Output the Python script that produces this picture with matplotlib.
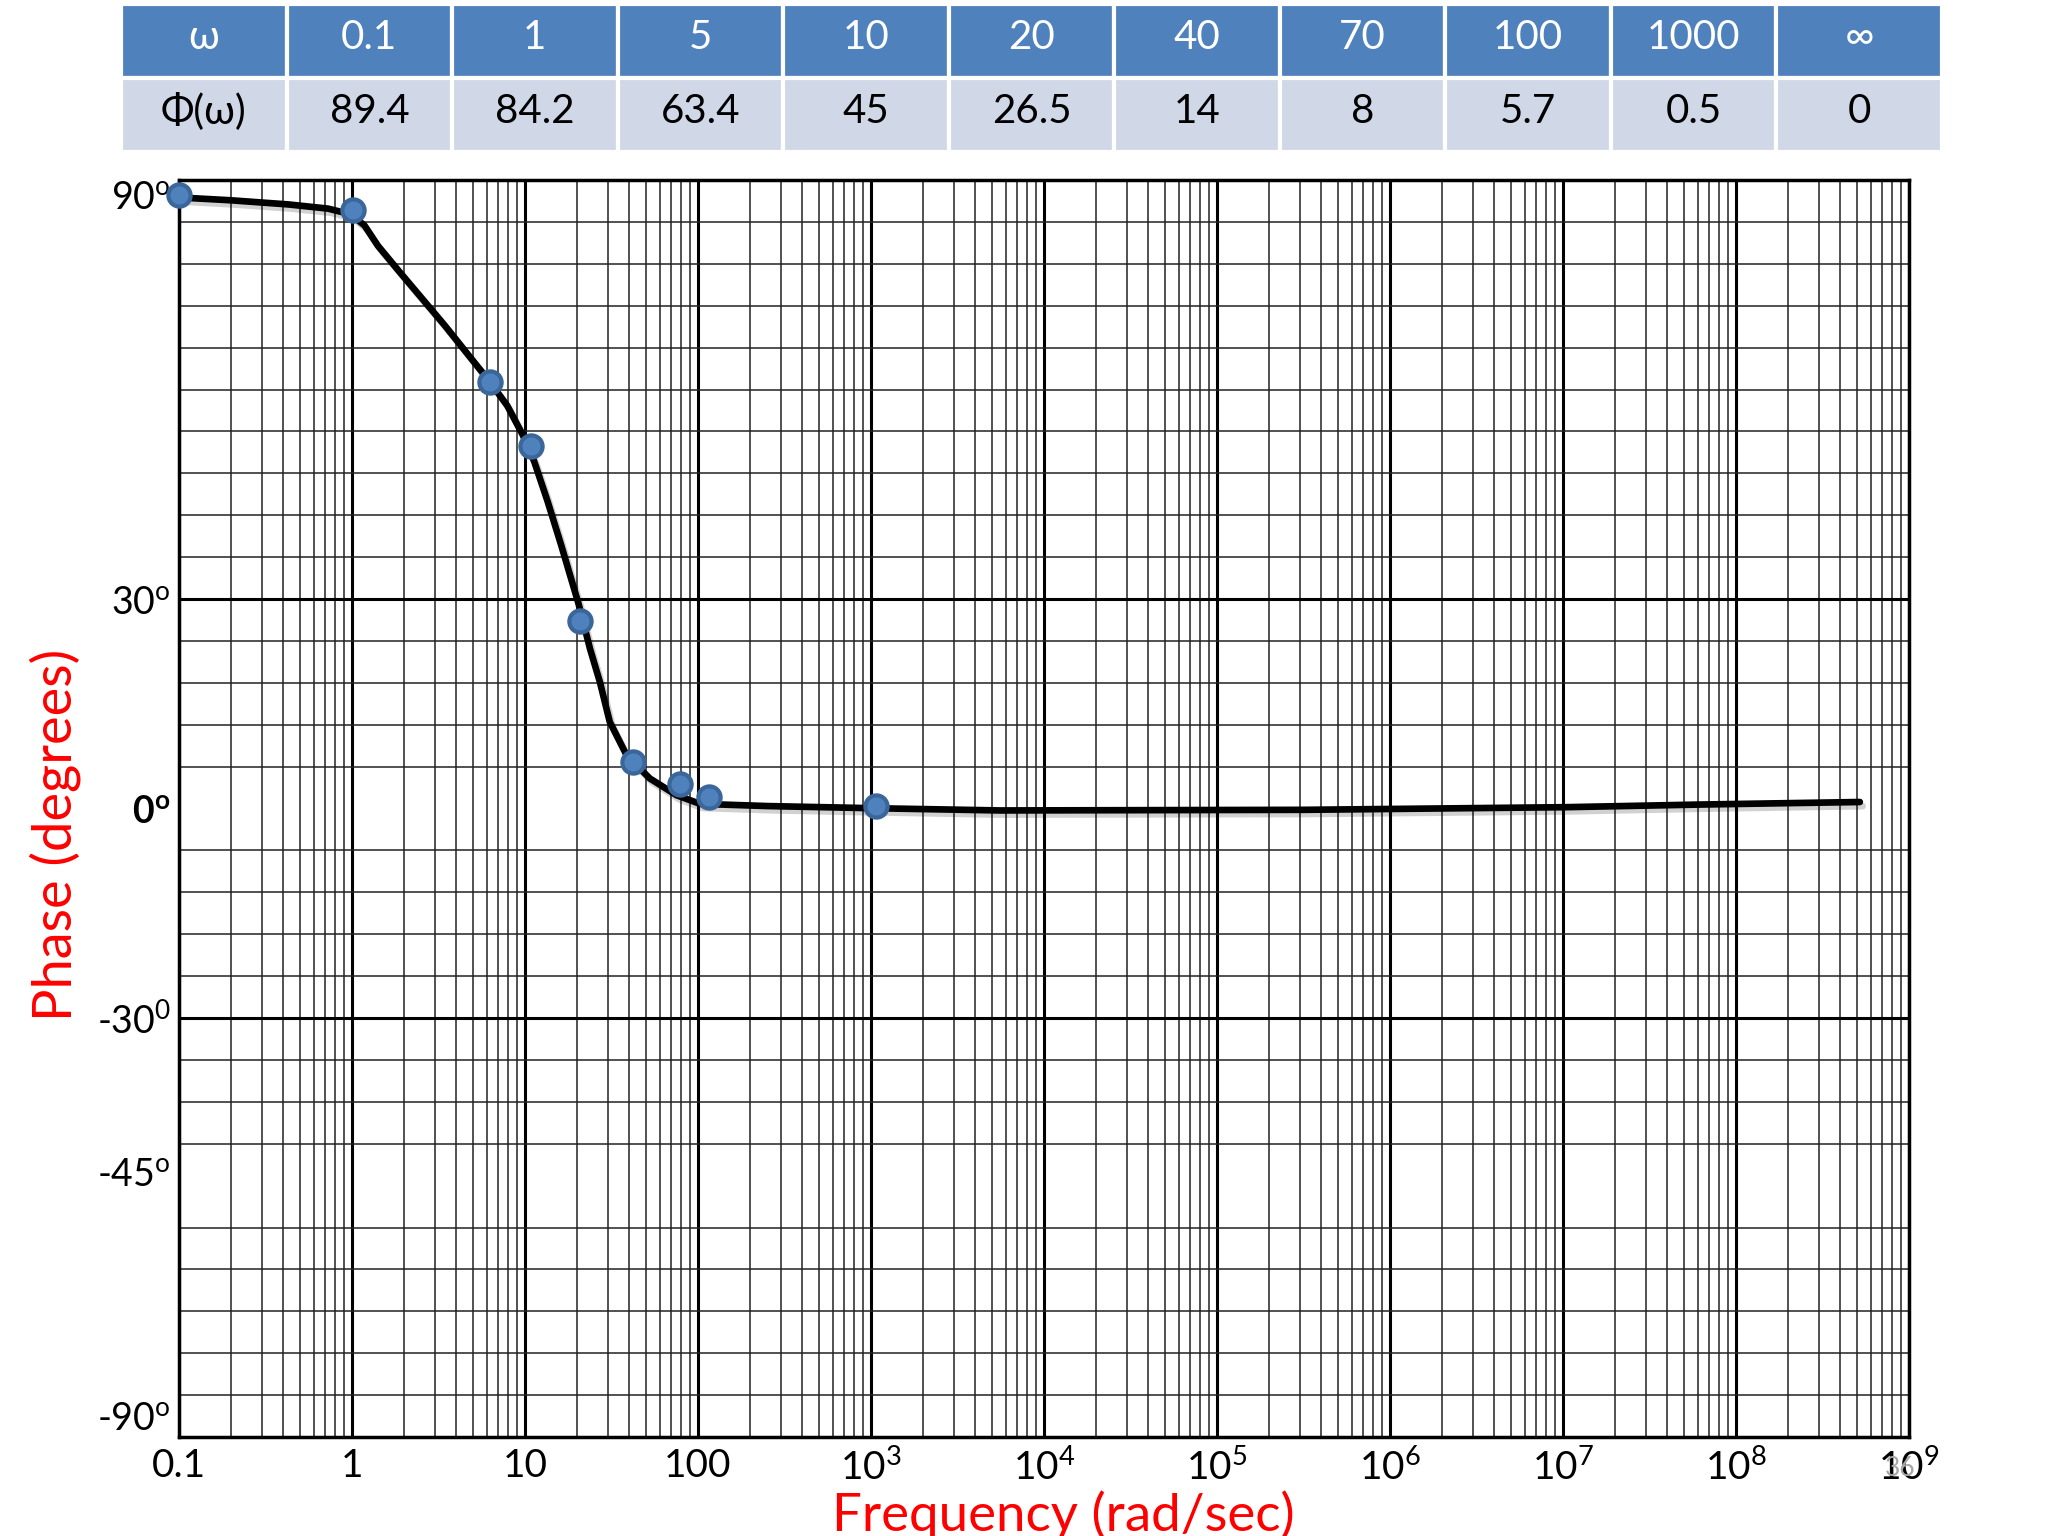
import numpy as np
import matplotlib
matplotlib.use('Agg')
import matplotlib.pyplot as plt
import matplotlib.patheffects as pe
from matplotlib.patches import Rectangle

plt.rcParams['font.family'] = ['Lato', 'DejaVu Sans']
plt.rcParams['mathtext.fontset'] = 'custom'
plt.rcParams['mathtext.rm'] = 'Lato'
plt.rcParams['mathtext.it'] = 'Lato:italic'
plt.rcParams['mathtext.bf'] = 'Lato:bold'

# table shown above the plot
table_w = ['ω', '0.1', '1', '5', '10', '20', '40', '70', '100', '1000', '∞']
table_phi = ['Φ(ω)', '89.4', '84.2', '63.4', '45', '26.5', '14', '8', '5.7', '0.5', '0']

# plotted points, as drawn on the graph paper
pt_w = [0.1, 1.02, 6.25, 10.9, 20.7, 42.3, 79.1, 116, 1072]
pt_phi = [87.8, 85.7, 61.1, 51.9, 26.9, 6.7, 3.5, 1.7, 0.4]

# hand drawn curve through the points
curve_w = [0.1, 0.198, 0.429, 0.728, 0.98, 1.18, 1.41, 1.89, 3.43, 4.9, 6.22,
           7.89, 9.7, 11.3, 13.5, 16.1, 20.4, 23.8, 27.1, 30.9, 38.7, 52.7,
           75.2, 102.6, 251, 942, 5560, 3.2e5, 1.85e6, 1.05e7, 6e7, 5.2e8]
curve_phi = [87.5, 87.1, 86.5, 85.9, 85.1, 83.5, 80.6, 76.8, 69.2, 64.4, 61.2,
             57.7, 53.5, 49.7, 44, 37.9, 29.3, 22.8, 18.1, 12.4, 7.6, 4.3,
             1.9, 0.67, 0.35, 0.06, -0.28, -0.19, 0, 0.19, 0.56, 0.93]

# axis labels
ytick_pos = [90, 30, 0, -30, -54, -90]
ytick_lab = [r'90$^{\mathregular{o}}$', r'30$^{\mathregular{o}}$', r'$\mathbf{0^{o}}$',
             r'-30$^{\mathregular{0}}$', r'-45$^{\mathregular{o}}$', r'-90$^{\mathregular{o}}$']
xtick_pos = [10.0 ** k for k in range(-1, 10)]
xtick_lab = ['0.1', '1', '10', '100'] + [r'$\mathregular{10^{%d}}$' % k for k in range(3, 10)]

W, H = 2048, 1536
fig = plt.figure(figsize=(W / 100, H / 100), dpi=100)

# ---- table ----
tx0, tx1, ty0, ty1 = 121, 1942, 4, 152
tab = fig.add_axes([tx0 / W, 1 - ty1 / H, (tx1 - tx0) / W, (ty1 - ty0) / H])
tab.set_xlim(0, len(table_w))
tab.set_ylim(0, 2)
tab.axis('off')
for i in range(len(table_w)):
    tab.add_patch(Rectangle((i, 1), 1, 1, facecolor='#4F81BD', edgecolor='white', lw=3))
    tab.add_patch(Rectangle((i, 0), 1, 1, facecolor='#D0D8E8', edgecolor='white', lw=3))
    tab.text(i + 0.5, 1.55, table_w[i], color='white', fontsize=29, ha='center', va='center')
    tab.text(i + 0.5, 0.55, table_phi[i], color='black', fontsize=29, ha='center', va='center')

# ---- graph ----
ax_l, ax_r, ax_t, ax_b = 179, 1909, 180, 1437
ax = fig.add_axes([ax_l / W, 1 - ax_b / H, (ax_r - ax_l) / W, (ax_b - ax_t) / H])
ax.set_xscale('log')
ax.set_xlim(0.1, 1e9)
ax.set_ylim(-90, 90)

ax.set_xticks(xtick_pos)
ax.set_xticklabels(xtick_lab)
ax.set_yticks(ytick_pos)
ax.set_yticklabels(ytick_lab)
ax.set_yticks(np.arange(-90, 91, 6), minor=True)
ax.tick_params(which='both', length=0)
ax.tick_params(axis='x', labelsize=28, pad=8)
ax.tick_params(axis='y', labelsize=27, pad=6)
ylabs = ax.get_yticklabels()
ylabs[0].set_va('top')
ylabs[-1].set_va('bottom')
ylabs[-2].set_va('baseline')

ax.grid(True, which='major', axis='x', color='black', lw=2.2)
ax.grid(True, which='minor', axis='x', color='#222222', lw=1.1)
ax.grid(True, which='minor', axis='y', color='#222222', lw=1.1)
ax.grid(False, which='major', axis='y')
ax.axhline(30, color='black', lw=2.2)
ax.axhline(-30, color='black', lw=2.2)
for s in ax.spines.values():
    s.set_linewidth(2.5)
ax.set_axisbelow(True)

ax.plot(curve_w, curve_phi, color='black', lw=4.8, solid_joinstyle='round',
        solid_capstyle='round',
        path_effects=[pe.SimpleLineShadow(offset=(2, -3), alpha=0.18), pe.Normal()], zorder=3)
ax.plot(pt_w, pt_phi, 'o', ms=16, mfc='#4F81BD', mec='#3A6699', mew=3,
        clip_on=False, zorder=4)

fig.text(55 / W, 1 - 835 / H, 'Phase (degrees)', color='red', fontsize=39,
         rotation=90, ha='center', va='center')
fig.text(1063 / W, 1 - 1490 / H, 'Frequency (rad/sec)', color='red', fontsize=38,
         ha='center', va='top')
fig.text(1900 / W, 1 - 1469 / H, '36', color='#A6A6A6', fontsize=19,
         ha='center', va='center')

fig.savefig('out.png', dpi=100)
